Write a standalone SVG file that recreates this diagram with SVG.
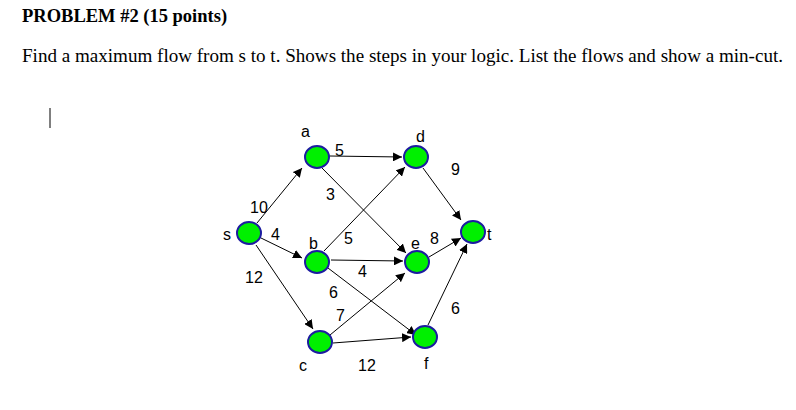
<svg xmlns="http://www.w3.org/2000/svg" width="796" height="410" viewBox="0 0 796 410">
<style>
.n{fill:#00f000;stroke:#1c1ca0;stroke-width:2}
.e{stroke:#000;stroke-width:1;fill:none;marker-end:url(#ah)}
.l{font-family:"Liberation Sans",Arial,sans-serif;font-size:16px;fill:#000}
.h{font-family:"Liberation Serif","Times New Roman",serif;fill:#000}
</style>
<defs><marker id="ah" viewBox="0 0 10 10" refX="10" refY="5" markerWidth="9" markerHeight="9" markerUnits="userSpaceOnUse" orient="auto"><path d="M0,0L10,5L0,10z" fill="#000"/></marker></defs>
<rect width="796" height="410" fill="#fff"/>
<text class="h" x="22" y="22" font-size="18.5" font-weight="bold">PROBLEM #2 (15 points)</text>
<text class="h" x="22" y="62" font-size="19" textLength="761" lengthAdjust="spacingAndGlyphs">Find a maximum flow from s to t.  Shows the steps in your logic. List the flows and show a min-cut.</text>
<line x1="50" y1="108" x2="50" y2="128" stroke="#000" stroke-width="1"/>
<g id="edges">
<line class="e" x1="257" y1="223" x2="302" y2="168"/>
<line class="e" x1="261" y1="238" x2="302" y2="258"/>
<line class="e" x1="256" y1="245" x2="313" y2="329"/>
<line class="e" x1="330" y1="156" x2="402" y2="157"/>
<line class="e" x1="322" y1="168" x2="406" y2="253"/>
<line class="e" x1="324" y1="251" x2="405" y2="167"/>
<line class="e" x1="331" y1="260" x2="403" y2="261"/>
<line class="e" x1="328" y1="268" x2="416" y2="335"/>
<line class="e" x1="330" y1="335" x2="405" y2="273"/>
<line class="e" x1="333" y1="343" x2="411" y2="337"/>
<line class="e" x1="423" y1="168" x2="461" y2="220"/>
<line class="e" x1="429" y1="257" x2="461" y2="238"/>
<line class="e" x1="428" y1="325" x2="467" y2="244"/>
</g>
<g id="s"><ellipse class="n" cx="249" cy="233" rx="12" ry="11"/><text class="l" x="223" y="240">s</text></g>
<g id="a"><ellipse class="n" cx="317" cy="157" rx="12" ry="11"/><text class="l" x="301" y="137">a</text></g>
<g id="d"><ellipse class="n" cx="416" cy="157" rx="12" ry="11"/><text class="l" x="416" y="142">d</text></g>
<g id="t"><ellipse class="n" cx="473" cy="232" rx="12" ry="11"/><text class="l" x="487" y="240">t</text></g>
<g id="b"><ellipse class="n" cx="317" cy="262" rx="12" ry="11"/><text class="l" x="309" y="249">b</text></g>
<g id="e"><ellipse class="n" cx="417" cy="262" rx="12" ry="11"/><text class="l" x="411" y="249">e</text></g>
<g id="c"><ellipse class="n" cx="320" cy="342" rx="12" ry="11"/><text class="l" x="299" y="371">c</text></g>
<g id="f"><ellipse class="n" cx="425" cy="337" rx="12" ry="11"/><text class="l" x="424" y="369">f</text></g>
<g id="labels">
<text class="l" x="250" y="213">10</text>
<text class="l" x="271" y="240">4</text>
<text class="l" x="245" y="283">12</text>
<text class="l" x="335" y="156">5</text>
<text class="l" x="326" y="200">3</text>
<text class="l" x="344" y="244">5</text>
<text class="l" x="358" y="277">4</text>
<text class="l" x="329" y="298">6</text>
<text class="l" x="336" y="321">7</text>
<text class="l" x="358" y="371">12</text>
<text class="l" x="451" y="175">9</text>
<text class="l" x="430" y="244">8</text>
<text class="l" x="451" y="314">6</text>
</g>
</svg>
